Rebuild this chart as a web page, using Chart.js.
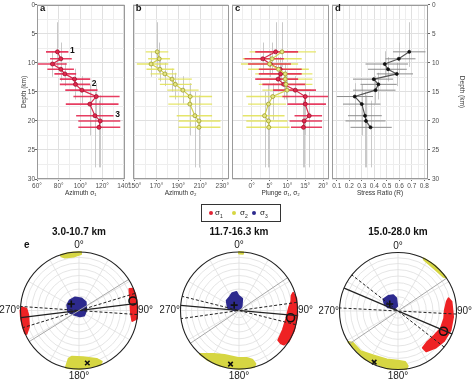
<!DOCTYPE html>
<html lang="en">
<head>
<meta charset="UTF-8">
<title>Stress orientation with depth</title>
<script src="https://cdn.jsdelivr.net/npm/chart.js"></script>
<style>
  body { margin: 0; background: #fff; font-family: "Liberation Sans", Arial, sans-serif; }
  #wrap { position: relative; width: 474px; height: 381px; overflow: hidden; }
  canvas { position: absolute; }
  .legend { position: absolute; left: 201px; top: 204px; width: 80px; height: 18px; border: 1px solid #333;
            box-sizing: border-box; font-size: 8px; color: #222; }
  .legend span { position: absolute; top: 3px; line-height: 9px; }
  .legend sub { font-size: 5px; }
  .legend i { position: absolute; top: 6px; width: 4px; height: 4px; border-radius: 50%; }
</style>
</head>
<body>
<div id="wrap">
  <canvas id="pa" width="132" height="200" style="left:0;top:0"></canvas>
  <canvas id="pb" width="110" height="200" style="left:124px;top:0"></canvas>
  <canvas id="pc" width="108" height="200" style="left:226px;top:0"></canvas>
  <canvas id="pd" width="148" height="200" style="left:326px;top:0"></canvas>
  <canvas id="n1" width="158" height="157" style="left:0;top:224px"></canvas>
  <canvas id="n2" width="158" height="157" style="left:160px;top:224px"></canvas>
  <canvas id="n3" width="155" height="157" style="left:319px;top:224px"></canvas>
  <div class="legend">
    <i style="left:6.5px;background:#e02233"></i><span style="left:13px">σ<sub>1</sub></span>
    <i style="left:30px;background:#d6d642"></i><span style="left:38px">σ<sub>2</sub></span>
    <i style="left:50px;background:#2d2a8e"></i><span style="left:58px">σ<sub>3</sub></span>
  </div>
</div>

<script>
Chart.defaults.font.family = '"Liberation Sans", Arial, "DejaVu Sans", sans-serif';

// ---- depth profiles (panels a-d) ----
const depthKm   = [8.1, 9.3, 10.2, 11.1, 11.9, 12.8, 13.7, 14.7, 15.8, 17.1, 19.1, 20.0, 21.1];
const depthTop  = [3.0, 6.5, 8.0, 9.0, 10.0, 11.0, 11.7, 12.3, 13.5, 13.8, 15.0, 15.6, 16.5];
const depthBase = [10.7, 11.8, 12.4, 13.2, 14.0, 15.0, 16.3, 17.0, 19.8, 22.5, 28.0, 28.0, 28.0];

const azS1   = [78.8, 81.9, 74.2, 81.9, 85.6, 94.5, 95.4, 101.3, 114.5, 108.6, 113.3, 118.2, 117.0];
const azS1Lo = [68.3, 72.0, 60.3, 69.5, 76.0, 81.0, 81.0, 86.0, 93.5, 86.5, 96.0, 98.0, 98.0];
const azS1Hi = [88.9, 92.0, 87.4, 94.0, 96.0, 109.0, 109.0, 115.7, 136.0, 135.0, 130.5, 136.6, 136.6];

const azS2   = [170.6, 172.4, 165.0, 173.0, 177.6, 184.1, 187.1, 194.0, 200.7, 200.4, 205.0, 208.7, 208.7];
const azS2Lo = [160.1, 162.3, 152.0, 160.8, 164.5, 171.5, 173.0, 179.8, 181.6, 180.7, 188.4, 190.0, 190.0];
const azS2Hi = [180.7, 182.3, 180.7, 186.2, 188.4, 202.2, 202.2, 208.4, 220.7, 220.7, 220.7, 228.3, 228.3];

const plS1   = [6.7, 3.1, 5.2, 8.0, 8.1, 7.4, 9.0, 12.2, 15.0, 15.0, 16.1, 14.7, 14.5];
const plS1Lo = [1.0, -2.0, -1.0, 2.0, 2.0, 1.0, 3.0, 6.0, 8.6, 10.0, 12.0, 10.6, 11.0];
const plS1Hi = [13.0, 9.0, 11.0, 14.0, 14.0, 13.0, 15.0, 18.0, 21.7, 20.8, 19.7, 19.7, 19.7];

const plS2   = [8.5, 5.7, 5.0, 7.5, 9.4, 9.4, 9.6, 9.9, 5.9, 4.7, 3.6, 4.7, 4.8];
const plS2Lo = [-0.6, -2.5, -3.0, -1.0, 1.0, 1.5, 2.0, 3.0, -1.5, -1.0, -2.5, -1.5, -1.5];
const plS2Hi = [18.0, 14.0, 13.0, 16.0, 17.0, 17.0, 17.0, 16.6, 10.6, 9.6, 9.2, 10.0, 10.6];

const ratioR   = [0.68, 0.596, 0.484, 0.51, 0.58, 0.396, 0.433, 0.41, 0.244, 0.30, 0.326, 0.334, 0.37];
const ratioRLo = [0.55, 0.49, 0.33, 0.35, 0.42, 0.23, 0.29, 0.23, 0.10, 0.15, 0.19, 0.17, 0.21];
const ratioRHi = [0.81, 0.73, 0.67, 0.66, 0.71, 0.55, 0.58, 0.57, 0.39, 0.45, 0.46, 0.49, 0.54];

const depthTicks  = [0, 5, 10, 15, 20, 25, 30];
const azS1Ticks   = [60, 80, 100, 120, 140];
const azS2Ticks   = [150, 170, 190, 210, 230];
const plungeTicks = [0, 5, 10, 15, 20];
const ratioTicks  = [0.1, 0.2, 0.3, 0.4, 0.5, 0.6, 0.7, 0.8];

// windows shown as stereonets below (index into the depth profile)
const windowIdx  = [0, 6, 10];
const windowText = ['1', '2', '3'];

// ---- stereonets (panel e) ----
const netTitles = ['3.0-10.7 km', '11.7-16.3 km', '15.0-28.0 km'];
const shmaxBest = [83, 95, 113];
const shmaxLow  = [73, 82, 93];
const shmaxHigh = [94, 104, 128];
const refTrend  = [58, 56, 56];
const sig1Best  = [[80, 7], [98, 12], [114, 16]];
const sig2Best  = [[171, 10], [189, 8], [205, 4]];
const sig3Best  = [[310, 76], [318, 80], [310, 75]];

// [trend, plunge] outlines of the bootstrap clouds
const sig1Clouds = [
  [[[67, 7], [68, 1], [74, 0], [86, 0], [98, 0], [101, 8], [93, 12], [80, 12]],
   [[273, 3], [272, 11], [265, 14], [252, 11], [246, 2], [247, 0], [254, 0], [262, 0], [270, 0]]],
  [[[72, 3], [78, 0], [95, 0], [110, 0], [122, 0], [127, 4], [128, 10], [127, 17], [114, 19], [100, 19], [86, 15], [80, 10], [74, 7]]],
  [[[76, 12], [80, 8], [96, 6], [110, 5], [123, 7], [134, 11], [145, 17], [146, 25], [136, 28], [124, 26], [112, 22], [99, 21], [89, 21], [79, 16]]]
];
const sig2Clouds = [
  [[[342, 0], [350, 0], [0, 0], [2, 0], [2, 4], [355, 8], [345, 7], [342, 3]],
   [[192, 17], [189, 21], [175, 21], [160, 13], [156, 5], [159, 0], [179, 0], [189, 0], [193, 0]]],
  [[[0, 0], [4, 0], [4, 3], [0, 3]],
   [[222, 0], [219, 5], [210, 15], [198, 21], [181, 20], [171, 19], [165, 14], [163, 5], [165, 0], [180, 0], [200, 0], [212, 0]]],
  [[[26, 0], [40, 0], [55, 0], [53, 3], [42, 5], [33, 4], [27, 2]],
   [[238, 0], [235, 6], [223, 7], [209, 14], [193, 16], [180, 16], [172, 13], [170, 5], [172, 0], [190, 0], [215, 0]]]
];
const sig3Clouds = [
  [[[318, 71], [342, 71], [12, 73], [38, 75], [88, 80], [134, 80], [173, 82], [231, 81], [263, 75], [295, 72]]],
  [[[339, 64], [352, 64], [357, 69], [15, 73], [31, 83], [35, 88], [272, 84], [284, 74], [309, 68], [327, 67]]],
  [[[327, 65], [343, 67], [352, 72], [350, 83], [310, 84], [290, 75], [298, 69], [309, 64]]]
];

const RED = '#e0284f', YEL = '#dede55';

function isMajor(list, v) { return list.some(m => Math.abs(m - v) < 1e-6); }
function midTicks(major, min, max) {
  const step = major[1] - major[0], out = [];
  for (let i = -1; i < major.length; i++) {
    const v = (i < 0 ? major[0] - step : major[i]) + step / 2;
    if (v >= min && v <= max) out.push(v);
  }
  return out;
}
const deg = v => v + '°';

function xAxis(major, min, max, fmt, title) {
  const all = major.concat(midTicks(major, min, max)).sort((a, b) => a - b);
  return {
    type: 'linear', min, max,
    afterBuildTicks: s => { s.ticks = all.map(v => ({value: v})); },
    afterFit: s => { s.height = 21; s.paddingLeft = 0; s.paddingRight = 0; },
    border: {display: false},
    grid: {
      color: c => c.tick && isMajor(major, c.tick.value) ? '#e0e0e0' : '#eeeeee',
      tickLength: 2,
      tickColor: c => c.tick && isMajor(major, c.tick.value) ? '#666' : 'rgba(0,0,0,0)'
    },
    ticks: {autoSkip: false, maxRotation: 0, padding: 1, color: '#4d4d4d', font: {size: 6.5},
            callback: v => isMajor(major, v) ? fmt(v) : ''},
    title: {display: true, text: title, color: '#333', font: {size: 6.5}, padding: {top: 0, bottom: 3}}
  };
}

function yAxis(side) {
  const all = depthTicks.concat(midTicks(depthTicks, 0, 30)).sort((a, b) => a - b);
  const shown = side !== 'none';
  return {
    type: 'linear', reverse: true, min: 0, max: 30, position: side === 'right' ? 'right' : 'left',
    afterBuildTicks: s => { s.ticks = all.map(v => ({value: v})); },
    afterFit: s => { s.width = side === 'left' ? 21 : side === 'right' ? 42 : 0; s.paddingTop = 0; s.paddingBottom = 0; },
    border: {display: false},
    grid: {
      color: c => c.tick && isMajor(depthTicks, c.tick.value) ? '#e0e0e0' : '#eeeeee',
      drawTicks: shown, tickLength: 2,
      tickColor: c => c.tick && isMajor(depthTicks, c.tick.value) ? '#666' : 'rgba(0,0,0,0)'
    },
    ticks: {display: shown, autoSkip: false, padding: side === 'right' ? 2 : 0, color: '#4d4d4d', font: {size: 6.5},
            callback: v => isMajor(depthTicks, v) ? String(v) : ''},
    title: {display: shown, text: 'Depth (km)', color: '#333', font: {size: 6.5}, padding: {top: 4, bottom: 0}}
  };
}

function depthPanel(id, spec) {
  const marks = {
    id: 'marks',
    beforeDatasetsDraw(chart) {
      const {ctx, chartArea: a, scales: {x, y}} = chart;
      ctx.save();
      ctx.beginPath(); ctx.rect(a.left, a.top, a.right - a.left, a.bottom - a.top); ctx.clip();
      ctx.strokeStyle = '#c9c9c9'; ctx.lineWidth = 1;
      spec.series.forEach(s => depthKm.forEach((d, i) => {
        const px = Math.round(x.getPixelForValue(s.x[i])) + 0.5;
        ctx.beginPath();
        ctx.moveTo(px, y.getPixelForValue(depthTop[i]));
        ctx.lineTo(px, y.getPixelForValue(depthBase[i]));
        ctx.stroke();
      }));
      spec.series.forEach(s => {
        ctx.strokeStyle = s.bar; ctx.lineWidth = s.barW;
        depthKm.forEach((d, i) => {
          const py = y.getPixelForValue(d);
          ctx.beginPath();
          ctx.moveTo(x.getPixelForValue(s.lo[i]), py);
          ctx.lineTo(x.getPixelForValue(s.hi[i]), py);
          ctx.stroke();
        });
      });
      ctx.restore();
    },
    afterDraw(chart) {
      const {ctx, chartArea: a, scales: {x, y}} = chart;
      ctx.save();
      ctx.strokeStyle = '#9a9a9a'; ctx.lineWidth = 1;
      ctx.strokeRect(Math.round(a.left) + 0.5, Math.round(a.top) + 0.5,
                     Math.round(a.right - a.left) - 1, Math.round(a.bottom - a.top) - 1);
      ctx.fillStyle = '#111'; ctx.textBaseline = 'middle'; ctx.textAlign = 'left';
      ctx.font = 'bold 9.5px "Liberation Sans", Arial, sans-serif';
      ctx.fillText(spec.letter, a.left + 3, 8);
      if (spec.notes) {
        ctx.font = 'bold 8.5px "Liberation Sans", Arial, sans-serif';
        windowIdx.forEach((k, j) => {
          ctx.fillText(windowText[j], x.getPixelForValue(spec.series[0].hi[k]) + 1.5, y.getPixelForValue(depthKm[k]) - 1);
        });
      }
      ctx.restore();
    }
  };
  return new Chart(document.getElementById(id), {
    type: 'scatter',
    data: {
      datasets: spec.series.map(s => ({
        data: depthKm.map((d, i) => ({x: s.x[i], y: d})),
        showLine: true, borderColor: s.line, borderWidth: 1.2,
        pointRadius: s.r, pointBackgroundColor: s.fill, pointBorderColor: s.edge, pointBorderWidth: 0.8
      }))
    },
    options: {
      responsive: false, animation: false,
      layout: {padding: spec.pad},
      plugins: {legend: {display: false}, tooltip: {enabled: false}},
      scales: {x: spec.x, y: spec.y}
    },
    plugins: [marks]
  });
}

const redSeries = (x, lo, hi) => ({x, lo, hi, bar: 'rgba(228,40,80,0.9)', barW: 1.6, line: '#d42a4c', fill: '#e3284c', edge: '#9e1030', r: 2});
const yelSeries = (x, lo, hi) => ({x, lo, hi, bar: 'rgba(226,226,90,0.9)', barW: 1.4, line: '#d2d250', fill: '#e6e680', edge: '#9c9c30', r: 2});

depthPanel('pa', {
  letter: 'a', notes: true, pad: {left: 16, right: 7.5, top: 3, bottom: 0},
  x: xAxis(azS1Ticks, 60, 140.5, deg, 'Azimuth σ₁'), y: yAxis('left'),
  series: [redSeries(azS1, azS1Lo, azS1Hi)]
});
depthPanel('pb', {
  letter: 'b', pad: {left: 8.8, right: 5.7, top: 3, bottom: 0},
  x: xAxis(azS2Ticks, 148.3, 235.5, deg, 'Azimuth σ₂'), y: yAxis('none'),
  series: [yelSeries(azS2, azS2Lo, azS2Hi)]
});
depthPanel('pc', {
  letter: 'c', pad: {left: 6, right: 4, top: 3, bottom: 0},
  x: xAxis(plungeTicks, -5.5, 21.7, deg, 'Plunge σ₁, σ₂'), y: yAxis('none'),
  series: [yelSeries(plS2, plS2Lo, plS2Hi), redSeries(plS1, plS1Lo, plS1Hi)]
});
depthPanel('pd', {
  letter: 'd', pad: {left: 6, right: 4, top: 3, bottom: 0},
  x: xAxis(ratioTicks, 0.062, 0.83, v => v.toFixed(1), 'Stress Ratio (R)'), y: yAxis('right'),
  series: [{x: ratioR, lo: ratioRLo, hi: ratioRHi, bar: '#8c8c8c', barW: 1, line: '#555', fill: '#111', edge: '#111', r: 1.5}]
});

// ---- stereonets ----
const DEG = Math.PI / 180;
function toXY(tp) {
  const r = Math.SQRT2 * Math.sin((90 - tp[1]) / 2 * DEG);
  return {x: r * Math.sin(tp[0] * DEG), y: r * Math.cos(tp[0] * DEG)};
}

function stereonet(id, k, pad) {
  const across = (az, color, dash, w) => ({
    data: [toXY([az, 0]), toXY([az + 180, 0])],
    showLine: true, borderColor: color, borderWidth: w, borderDash: dash, pointRadius: 0
  });
  const marker = (tp, style, r) => ({
    data: [toXY(tp)], pointStyle: style, pointRadius: r,
    pointBorderColor: '#111', pointBorderWidth: 1.6, pointBackgroundColor: 'rgba(0,0,0,0)'
  });
  const clouds = [[sig2Clouds[k], '#d6d642'], [sig1Clouds[k], '#ee2224'], [sig3Clouds[k], '#2d2a8e']];
  const net = {
    id: 'net',
    beforeDatasetsDraw(chart) {
      const {ctx, scales: {x, y}} = chart;
      const cx = x.getPixelForValue(0), cy = y.getPixelForValue(0);
      const R = x.getPixelForValue(1) - cx;
      ctx.save();
      ctx.strokeStyle = '#dedede'; ctx.lineWidth = 0.8;
      for (let p = 10; p < 90; p += 10) {
        const r = x.getPixelForValue(toXY([90, p]).x) - cx;
        ctx.beginPath(); ctx.arc(cx, cy, r, 0, 2 * Math.PI); ctx.stroke();
      }
      for (let t = 0; t < 180; t += 30) {
        const a = toXY([t, 0]);
        ctx.beginPath();
        ctx.moveTo(x.getPixelForValue(a.x), y.getPixelForValue(a.y));
        ctx.lineTo(x.getPixelForValue(-a.x), y.getPixelForValue(-a.y));
        ctx.stroke();
      }
      clouds.forEach(([polys, color]) => polys.forEach(poly => {
        ctx.beginPath();
        poly.forEach((tp, i) => {
          const p = toXY(tp);
          const px = x.getPixelForValue(p.x), py = y.getPixelForValue(p.y);
          if (i === 0) ctx.moveTo(px, py); else ctx.lineTo(px, py);
        });
        ctx.closePath();
        ctx.fillStyle = color; ctx.strokeStyle = color; ctx.lineWidth = 2; ctx.lineJoin = 'round';
        ctx.fill(); ctx.stroke();
      }));
      ctx.restore();
    },
    afterDraw(chart) {
      const {ctx, scales: {x, y}} = chart;
      const cx = x.getPixelForValue(0), cy = y.getPixelForValue(0);
      const R = x.getPixelForValue(1) - cx;
      ctx.save();
      ctx.strokeStyle = '#222'; ctx.lineWidth = 1.1;
      ctx.beginPath(); ctx.arc(cx, cy, R, 0, 2 * Math.PI); ctx.stroke();
      ctx.fillStyle = '#222'; ctx.textBaseline = 'middle';
      ctx.font = '10px "Liberation Sans", Arial, sans-serif';
      ctx.textAlign = 'center';
      ctx.fillText('0°', cx, cy - R - 6.5);
      ctx.fillText('180°', cx, cy + R + 7);
      ctx.textAlign = 'right'; ctx.fillText('270°', cx - R - 0.5, cy);
      ctx.textAlign = 'left'; ctx.fillText('90°', cx + R + 0.5, cy);
      ctx.fillStyle = '#111'; ctx.textAlign = 'center';
      ctx.font = 'bold 10px "Liberation Sans", Arial, sans-serif';
      ctx.fillText(netTitles[k], cx, cy - R - 20);
      if (k === 0) { ctx.textAlign = 'left'; ctx.fillText('e', 24, cy - R - 7); }
      ctx.restore();
    }
  };
  return new Chart(document.getElementById(id), {
    type: 'scatter',
    data: {
      datasets: [
        across(refTrend[k], '#a8a8a8', [], 1),
        across(shmaxLow[k], '#222', [3, 2], 1),
        across(shmaxHigh[k], '#222', [3, 2], 1),
        across(shmaxBest[k], '#222', [], 1.2),
        marker(sig1Best[k], 'circle', 4),
        marker(sig2Best[k], 'crossRot', 3.2),
        marker(sig3Best[k], 'cross', 3.5)
      ]
    },
    options: {
      responsive: false, animation: false,
      layout: {padding: pad},
      plugins: {legend: {display: false}, tooltip: {enabled: false}},
      scales: {x: {type: 'linear', min: -1, max: 1, display: false}, y: {type: 'linear', min: -1, max: 1, display: false}}
    },
    plugins: [net]
  });
}

stereonet('n1', 0, {left: 20.5, right: 20.5, top: 28, bottom: 12});
stereonet('n2', 1, {left: 20.5, right: 20.5, top: 28, bottom: 12});
stereonet('n3', 2, {left: 20.5, right: 17.5, top: 28.5, bottom: 11.5});
</script>
</body>
</html>
